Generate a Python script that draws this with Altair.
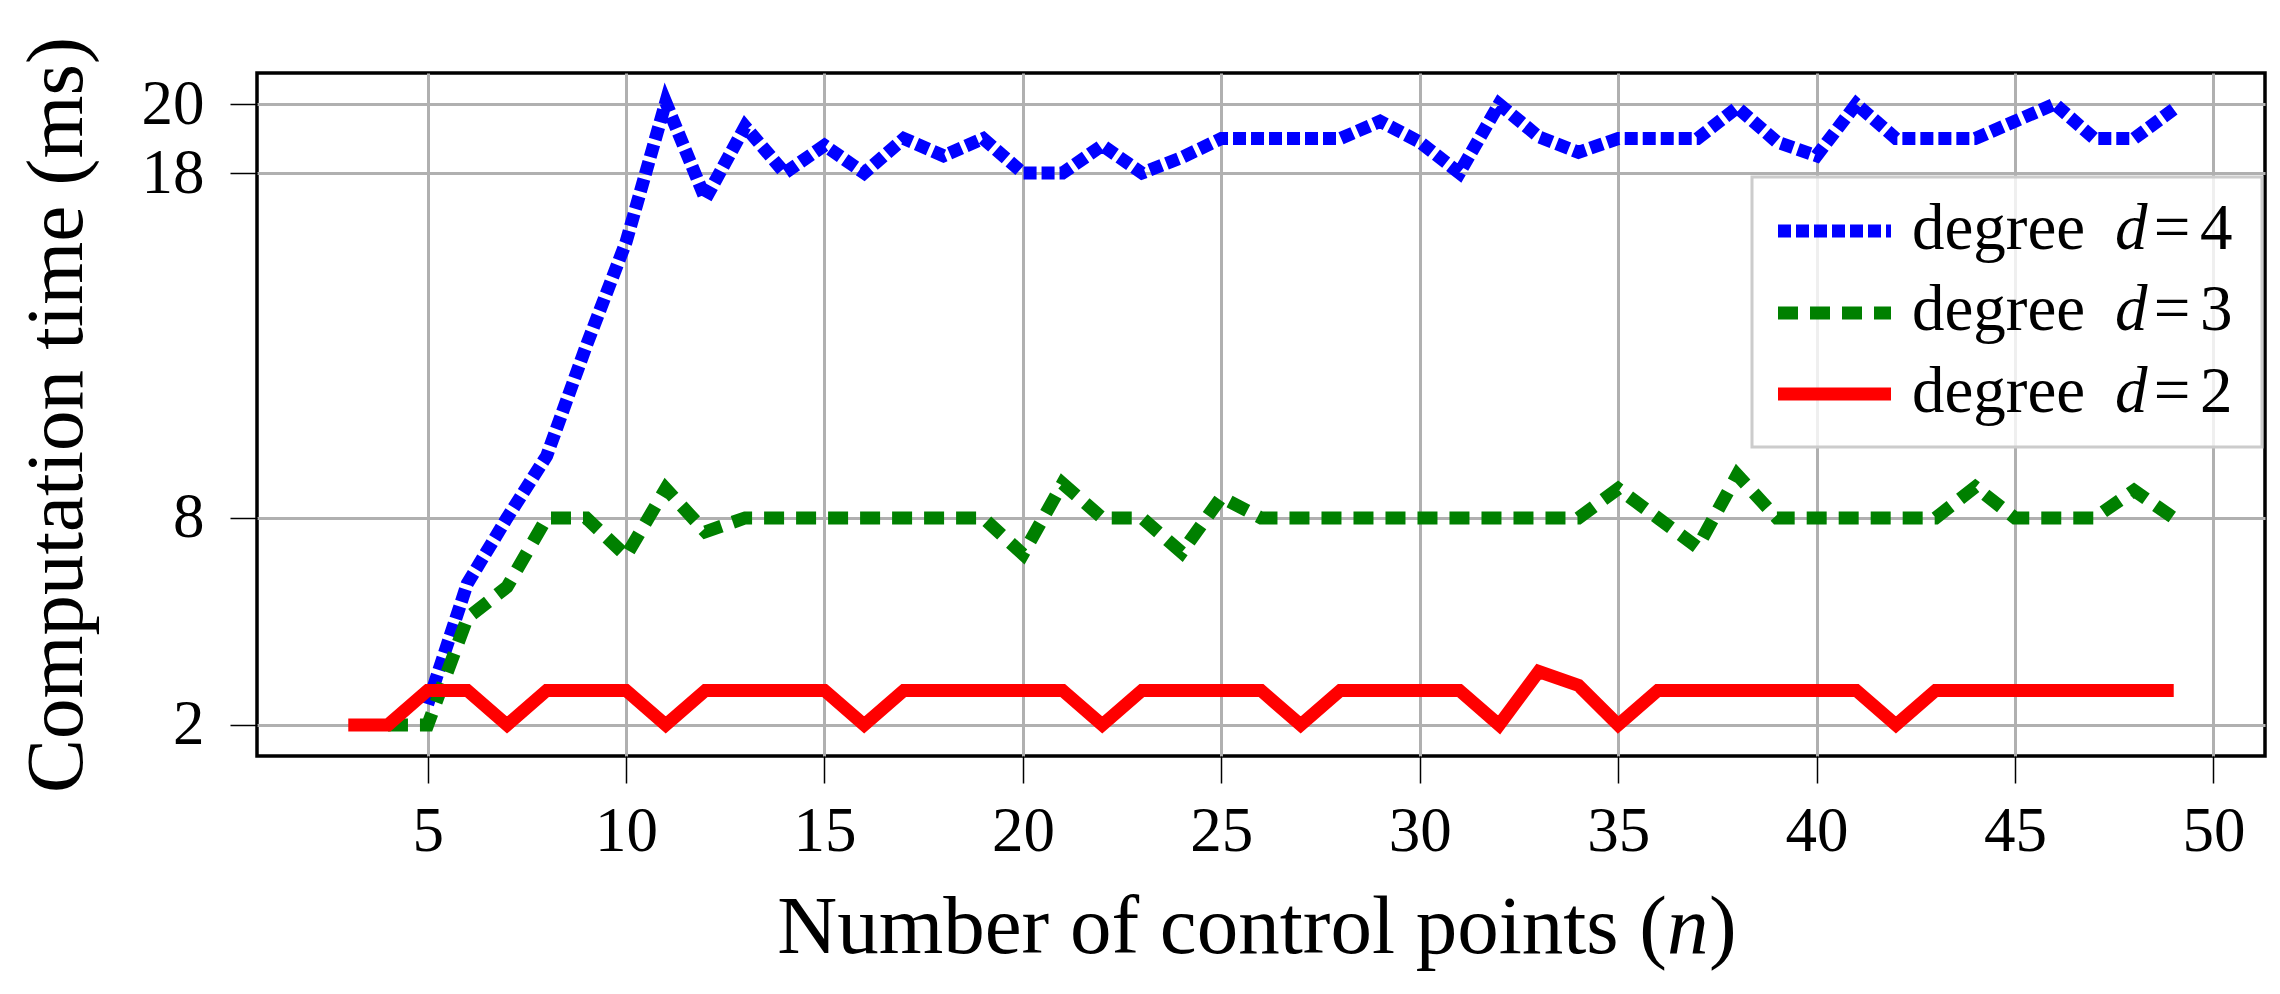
import altair as alt
import pandas as pd

# ---------------- data ----------------
n_d4 = list(range(5, 50))
t_d4 = [2.6, 6.1, 8.0, 9.8, 13.0,
        16.0, 20.05, 17.25, 19.35, 18.0, 18.8, 18.0, 19.0, 18.5, 19.0,
        18.0, 18.0, 18.8, 18.0, 18.45, 19.0, 19.0, 19.0, 19.0, 19.5,
        18.9, 18.0, 20.0, 19.05, 18.6, 19.0, 19.0, 19.0, 19.9, 18.9,
        18.5, 20.0, 19.0, 19.0, 19.0, 19.5, 20.0, 19.0, 19.0, 19.85]

n_d3 = list(range(4, 50))
t_d3 = [2, 2, 5.1, 6.0, 8, 8,
        6.9, 8.85, 7.6, 8, 8, 8, 8, 8, 8, 8,
        6.95, 9.0, 8, 8, 7.0, 8.6, 8, 8, 8, 8,
        8, 8, 8, 8, 8, 8.85, 8.0, 7.15, 9.25, 8,
        8, 8, 8, 8, 8.9, 8, 8, 8, 8.8, 8]

n_d2 = list(range(3, 50))
t_d2 = [2, 2, 3, 3, 2, 3, 3,
        3, 2, 3, 3, 3, 3, 2, 3, 3, 3,
        3, 3, 2, 3, 3, 3, 3, 2, 3, 3,
        3, 3, 2, 3.55, 3.15, 2, 3, 3, 3, 3,
        3, 3, 2, 3, 3, 3, 3, 3, 3, 3]

degrees = ["4", "3", "2"]
x_ticks = [5, 10, 15, 20, 25, 30, 35, 40, 45, 50]
y_ticks = [2, 8, 18, 20]
x_title_main = "Number of control points ("
x_title_var = "n"
y_title = "Computation time (ms)"

FONT = "Liberation Serif"
W, H = 2008, 683

df4 = pd.DataFrame({"n": n_d4, "t": t_d4})
df3 = pd.DataFrame({"n": n_d3, "t": t_d3})
df2 = pd.DataFrame({"n": n_d2, "t": t_d2})
one = pd.DataFrame({"k": [0]})

x_enc = alt.X(
    "n:Q",
    scale=alt.Scale(domain=[0.7, 51.3], nice=False, zero=False),
    axis=alt.Axis(values=x_ticks, title=None, grid=True, gridColor="#b0b0b0",
                  gridWidth=3, domain=False, tickSize=27, tickColor="black",
                  tickWidth=1.5, labelFont=FONT, labelFontSize=63,
                  labelColor="black", labelPadding=17, labelFlush=False,
                  labelOverlap=False),
)
y_enc = alt.Y(
    "t:Q",
    scale=alt.Scale(domain=[1.1, 20.9], nice=False, zero=False),
    axis=alt.Axis(values=y_ticks, title=y_title, grid=True, gridColor="#b0b0b0",
                  gridWidth=3, domain=False, tickSize=27, tickColor="black",
                  tickWidth=1.5, labelFont=FONT, labelFontSize=63,
                  labelColor="black", labelPadding=26, labelOverlap=False,
                  titleFont=FONT, titleFontSize=81, titleFontWeight="normal",
                  titleColor="black", titleX=-176, titleY=H / 2,
                  titleAngle=270, titleAlign="center",
                  titleBaseline="alphabetic"),
)

styles = {
    "4": dict(color="#0000ff", strokeDash=[13, 5]),
    "3": dict(color="#008000", strokeDash=[20, 12]),
    "2": dict(color="#ff0000"),
}

blue = alt.Chart(df4).mark_line(strokeWidth=13, **styles["4"]).encode(x=x_enc, y=y_enc)
green = alt.Chart(df3).mark_line(strokeWidth=13, **styles["3"]).encode(x=x_enc, y=y_enc)
red = alt.Chart(df2).mark_line(strokeWidth=13, **styles["2"]).encode(x=x_enc, y=y_enc)

layers = [blue, green, red]

# ---------------- legend ----------------
layers.append(
    alt.Chart(one).mark_rect(fill="white", fillOpacity=0.8, stroke="#cccccc",
                             strokeWidth=3)
    .encode(x=alt.value(1495), x2=alt.value(2005), y=alt.value(104), y2=alt.value(374))
)
row_sym_y = [158, 240, 321]
row_base_y = [176, 257, 339]
for deg, sy, by in zip(degrees, row_sym_y, row_base_y):
    layers.append(
        alt.Chart(one).mark_rule(strokeWidth=13, **styles[deg])
        .encode(x=alt.value(1521), x2=alt.value(1634), y=alt.value(sy))
    )
    layers.append(
        alt.Chart(one).mark_text(text="degree", font=FONT, fontSize=65, align="left",
                                 baseline="alphabetic", color="black")
        .encode(x=alt.value(1655), y=alt.value(by))
    )
    layers.append(
        alt.Chart(one).mark_text(text="d", font=FONT, fontSize=65, fontStyle="italic",
                                 align="left", baseline="alphabetic", color="black")
        .encode(x=alt.value(1858), y=alt.value(by))
    )
    layers.append(
        alt.Chart(one).mark_text(text="=", font=FONT, fontSize=65, align="center",
                                 baseline="alphabetic", color="black")
        .encode(x=alt.value(1915), y=alt.value(by))
    )
    layers.append(
        alt.Chart(one).mark_text(text=deg, font=FONT, fontSize=65, align="left",
                                 baseline="alphabetic", color="black")
        .encode(x=alt.value(1943), y=alt.value(by))
    )

# ---------------- x axis title with italic n ----------------
layers.append(
    alt.Chart(one).mark_text(text=x_title_main, font=FONT, fontSize=83, align="right",
                             baseline="alphabetic", color="black")
    .encode(x=alt.value(1410), y=alt.value(880))
)
layers.append(
    alt.Chart(one).mark_text(text=x_title_var, font=FONT, fontSize=83, fontStyle="italic",
                             align="left", baseline="alphabetic", color="black")
    .encode(x=alt.value(1410), y=alt.value(880))
)
layers.append(
    alt.Chart(one).mark_text(text=")", font=FONT, fontSize=83, align="left",
                             baseline="alphabetic", color="black")
    .encode(x=alt.value(1452), y=alt.value(880))
)

chart = (
    alt.layer(*layers)
    .properties(width=W, height=H,
                background="white",
                autosize=alt.AutoSizeParams(type="none"),
                padding={"left": 249, "top": 65, "right": 5, "bottom": 225})
    .configure_view(stroke="black", strokeWidth=3.5)
)

chart.save("out.html", embed_options={"renderer": "svg", "actions": False})
